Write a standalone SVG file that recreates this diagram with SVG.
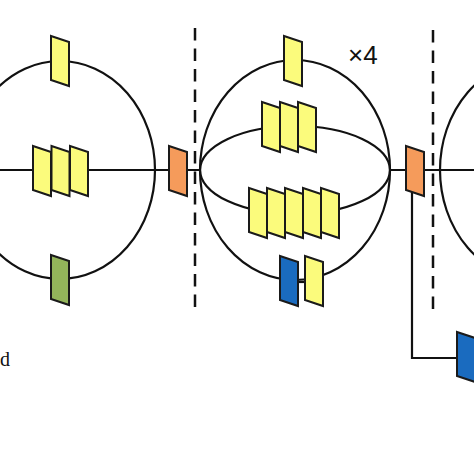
<svg xmlns="http://www.w3.org/2000/svg" xmlns:xlink="http://www.w3.org/1999/xlink" width="474" height="474" viewBox="0 0 474 474">
<style>
.ln{fill:none;stroke:#111;stroke-width:2.2}
.dash{fill:none;stroke:#111;stroke-width:2.5;stroke-dasharray:12.5 8}
.blk{stroke:#1a1a1a;stroke-width:2;stroke-linejoin:miter}
.y{fill:#FBFB7C}
.o{fill:#F59B5B}
.g{fill:#93B55A}
.b{fill:#1A6BBF}
.t{font-family:"Liberation Serif",serif;fill:#111}
.ts{font-family:"Liberation Sans",sans-serif;fill:#111}
</style>
<defs>
<path id="blk" d="M0,0 L18,6 L18,50 L0,44 Z"/>
</defs>
<rect width="474" height="474" fill="#fff"/>
<g id="connectors">
<ellipse class="ln" cx="60" cy="170" rx="95" ry="109"/>
<ellipse class="ln" cx="295" cy="170" rx="95" ry="110"/>
<ellipse class="ln" cx="295" cy="170" rx="95" ry="44"/>
<ellipse class="ln" cx="535" cy="170" rx="95" ry="110"/>
<line class="ln" x1="0" y1="170" x2="200" y2="170"/>
<line class="ln" x1="390" y1="170" x2="474" y2="170"/>
<polyline class="ln" points="412,190 412,358 458,358"/>
<line class="ln" x1="298" y1="282" x2="305" y2="282"/>
<line class="dash" x1="195" y1="28" x2="195" y2="308"/>
<line class="dash" x1="433" y1="30" x2="433" y2="312"/>
</g>
<g id="left-top"><use xlink:href="#blk" href="#blk" class="blk y" x="51" y="36"/></g>
<g id="left-mid">
<use xlink:href="#blk" href="#blk" class="blk y" x="33" y="146"/>
<use xlink:href="#blk" href="#blk" class="blk y" x="51.5" y="146"/>
<use xlink:href="#blk" href="#blk" class="blk y" x="70" y="146"/>
</g>
<g id="left-bottom"><use xlink:href="#blk" href="#blk" class="blk g" x="51" y="255"/></g>
<g id="orange-1"><use xlink:href="#blk" href="#blk" class="blk o" x="169" y="146"/></g>
<g id="mid-top"><use xlink:href="#blk" href="#blk" class="blk y" x="284" y="36"/></g>
<g id="mid-upper">
<use xlink:href="#blk" href="#blk" class="blk y" x="262" y="102"/>
<use xlink:href="#blk" href="#blk" class="blk y" x="280" y="102"/>
<use xlink:href="#blk" href="#blk" class="blk y" x="298" y="102"/>
</g>
<g id="mid-lower">
<use xlink:href="#blk" href="#blk" class="blk y" x="249" y="188"/>
<use xlink:href="#blk" href="#blk" class="blk y" x="267" y="188"/>
<use xlink:href="#blk" href="#blk" class="blk y" x="285" y="188"/>
<use xlink:href="#blk" href="#blk" class="blk y" x="303" y="188"/>
<use xlink:href="#blk" href="#blk" class="blk y" x="321" y="188"/>
</g>
<g id="mid-bottom">
<use xlink:href="#blk" href="#blk" class="blk b" x="280" y="256"/>
<use xlink:href="#blk" href="#blk" class="blk y" x="305" y="256"/>
</g>
<g id="orange-2"><use xlink:href="#blk" href="#blk" class="blk o" x="406" y="146"/></g>
<g id="right-blue"><use xlink:href="#blk" href="#blk" class="blk b" x="457" y="332"/></g>
<g id="label-x4"><text class="ts" x="348" y="64" font-size="26">×4</text></g>
<g id="label-d"><text class="t" x="0" y="366" font-size="20">d</text></g>
</svg>
